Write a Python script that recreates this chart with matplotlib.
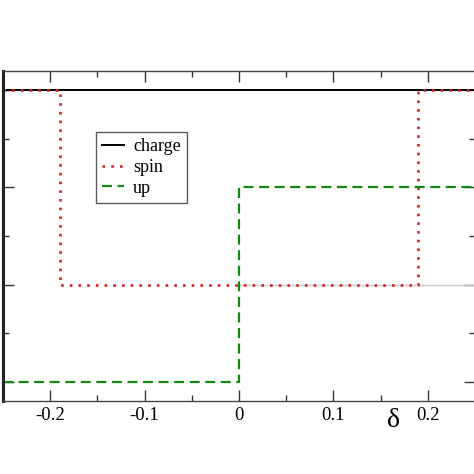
import matplotlib
matplotlib.use("Agg")
import matplotlib.pyplot as plt
from matplotlib.ticker import MultipleLocator

# step curves
charge_x = [-0.25, 0.25]
charge_y = [3, 3]

spin_x = [-0.25, -0.19, -0.19, 0.19, 0.19, 0.25]
spin_y = [3, 3, 1, 1, 3, 3]

up_x = [-0.25, 0.0, 0.0, 0.25]
up_y = [0, 0, 2, 2]

down_x = [0.0, 0.25]
down_y = [1, 1]

xticks = [-0.2, -0.1, 0, 0.1, 0.2]
xticklabels = ["-0.2", "-0.1", "0", "0.1", "0.2"]

plt.rcParams['font.family'] = ['Liberation Serif', 'DejaVu Serif']

fig = plt.figure(figsize=(4.74, 4.74), dpi=100)
W = 474.0
ax = fig.add_axes([3 / W, 73 / W, 472 / W, 330 / W])

ax.plot(down_x, down_y, color='#c8c8c8', lw=1.0)
ax.plot(charge_x, charge_y, color='black', lw=1.4, label='charge')
ax.plot(spin_x, spin_y, color='#dd2222', lw=1.9, linestyle=(0, (1, 2.3)), label='spin')
ax.plot(up_x, up_y, color='#118811', lw=1.6, linestyle=(0, (4.5, 2.5)), label='up')

ax.set_xlim(-0.25, 0.25)
ax.set_ylim(-0.2, 3.2)

ax.set_xticks(xticks)
ax.set_xticklabels(xticklabels, fontsize=13.5)
ax.xaxis.set_minor_locator(MultipleLocator(0.05))
ax.yaxis.set_major_locator(MultipleLocator(1))
ax.yaxis.set_minor_locator(MultipleLocator(0.5))
ax.set_yticklabels([])

ax.tick_params(which='both', direction='in', top=True, right=True, color='#333333')
ax.tick_params(which='major', length=8, width=1)
ax.tick_params(which='minor', length=4, width=1)
ax.tick_params(axis='x', pad=4)

for s in ax.spines.values():
    s.set_color('#444444')
    s.set_linewidth(1.0)
ax.spines['left'].set_linewidth(2.2)
ax.spines['left'].set_color('#222222')

ax.text(0.164, -0.4, 'δ', fontsize=20, ha='center', va='center')

leg = ax.legend(loc='upper left', bbox_to_anchor=(96 / W, 1 - 132 / W),
                bbox_transform=fig.transFigure, fontsize=13, frameon=True,
                fancybox=False, handlelength=1.2, handletextpad=0.5,
                labelspacing=0.2, borderpad=0.35, borderaxespad=0)
leg.get_frame().set_edgecolor('#333333')
leg.get_frame().set_linewidth(1.0)

fig.savefig('out.png', dpi=100)
